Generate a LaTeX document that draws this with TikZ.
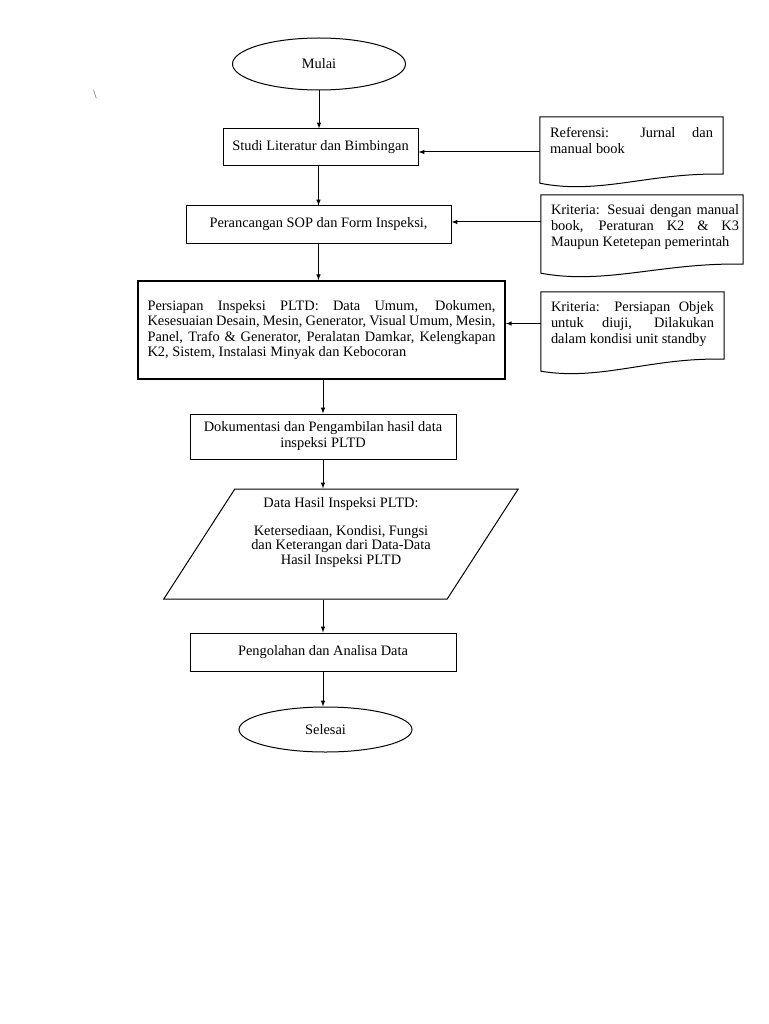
\documentclass[tikz,border=0pt]{standalone}
\usepackage{fontspec}
\setmainfont{Liberation Serif}
\usetikzlibrary{positioning,shapes.geometric,arrows}
\tolerance=10000
\pretolerance=10000
\hbadness=10000

\begin{document}
\begin{tikzpicture}[
  x=1pt, y=-1pt,
  font=\fontsize{14.4}{16}\selectfont,
  terminal/.style={draw,ellipse,line width=1pt,minimum width=173pt,minimum height=52pt,inner sep=0pt},
  proses/.style={draw,rectangle,line width=1pt,align=center,inner sep=4pt},
  masukan/.style={draw,trapezium,line width=1pt,trapezium left angle=58,trapezium right angle=122,
    trapezium stretches=true,minimum width=356pt,minimum height=110pt,align=center,
    font=\fontsize{14.4}{14.5}\selectfont},
  dokumen/.style={rectangle,inner sep=0pt},
  doktext/.style={anchor=north west,inner sep=10pt,align=justify},
  garisdok/.style={draw,line width=1pt},
  panah/.style={-latex,line width=1pt}
]
\useasboundingbox (0,0) rectangle (768,1024);

\node[text=black!70,font=\fontsize{12}{12}\selectfont] (miring) at (95,95) {\textbackslash};

% alur utama
\node[terminal] (mulai) at (319,64) {Mulai};
\node[proses,minimum width=195pt,minimum height=37pt] (studi) at (320.5,147.5) {Studi Literatur dan Bimbingan};
\node[proses,minimum width=265pt,minimum height=37pt] (rancang) at (318.5,224.5) {Perancangan SOP dan Form Inspeksi,};
\node[proses,line width=1.6pt,minimum width=367pt,minimum height=98pt,text width=348pt,align=justify,
  font=\fontsize{14.4}{15.5}\selectfont] (siap) at (321.5,330)
  {Persiapan Inspeksi PLTD: Data Umum, Dokumen,\linebreak Kesesuaian Desain, Mesin, Generator, Visual Umum, Mesin,\linebreak Panel, Trafo \& Generator, Peralatan Damkar, Kelengkapan\linebreak K2, Sistem, Instalasi Minyak dan Kebocoran};
\node[proses,minimum width=266pt,minimum height=45pt] (dok) at (323,436.5) {Dokumentasi dan Pengambilan hasil data\\ inspeksi PLTD};
\node[masukan] (hasil) at (341,544) {Data Hasil Inspeksi PLTD:\\[13pt] Ketersediaan, Kondisi, Fungsi\\ dan Keterangan dari Data-Data\\ Hasil Inspeksi PLTD\\[12pt]\mbox{}};
\node[proses,minimum width=266pt,minimum height=38pt] (olah) at (323,652) {Pengolahan dan Analisa Data};
\node[terminal,minimum height=45pt] (selesai) at (325.5,729.5) {Selesai};

% dokumen pendukung
\node[dokumen,minimum width=183pt,minimum height=66pt] (ref) at (631.5,150) {};
\node[doktext,text width=163pt] (reftext) at (ref.north west) {Referensi: Jurnal dan\linebreak manual book};
\draw[garisdok] (ref.north west) -- (ref.north east) -- ([yshift=9pt]ref.south east)
  .. controls +(-73,-2) and +(60,12) .. (ref.south west) -- cycle;

\node[dokumen,minimum width=202pt,minimum height=78pt] (krit) at (642,234) {};
\node[doktext,text width=188pt] (krittext) at (krit.north west) {Kriteria: Sesuai dengan manual\linebreak book, Peraturan K2 \& K3\linebreak Maupun Ketetepan pemerintah};
\draw[garisdok] (krit.north west) -- (krit.north east) -- ([yshift=9pt]krit.south east)
  .. controls +(-80,-2) and +(65,12) .. (krit.south west) -- cycle;

\node[dokumen,minimum width=183pt,minimum height=79pt] (objek) at (632.5,331.5) {};
\node[doktext,text width=163pt] (objektext) at (objek.north west) {Kriteria: Persiapan Objek\linebreak untuk diuji, Dilakukan\linebreak dalam kondisi unit standby};
\draw[garisdok] (objek.north west) -- (objek.north east) -- ([yshift=12pt]objek.south east)
  .. controls +(-73,-2) and +(60,10) .. (objek.south west) -- cycle;

% panah
\path (mulai.south) edge[panah] (mulai.south |- studi.north)
  (rancang.north |- studi.south) edge[panah] (rancang.north)
  (rancang.south) edge[panah] (rancang.south |- siap.north)
  (dok.north |- siap.south) edge[panah] (dok.north)
  (dok.south) edge[panah] (dok.south |- hasil.north)
  (olah.north |- hasil.south) edge[panah] (olah.north)
  (olah.south) edge[panah] (olah.south |- selesai.north);

\path ([yshift=-2pt]ref.west) edge[panah] ([yshift=-2pt]ref.west -| studi.east)
  ([yshift=12pt]krit.west) edge[panah] ([yshift=12pt]krit.west -| rancang.east)
  ([yshift=8pt]objek.west) edge[panah] ([yshift=8pt]objek.west -| siap.east);

\end{tikzpicture}
\end{document}
